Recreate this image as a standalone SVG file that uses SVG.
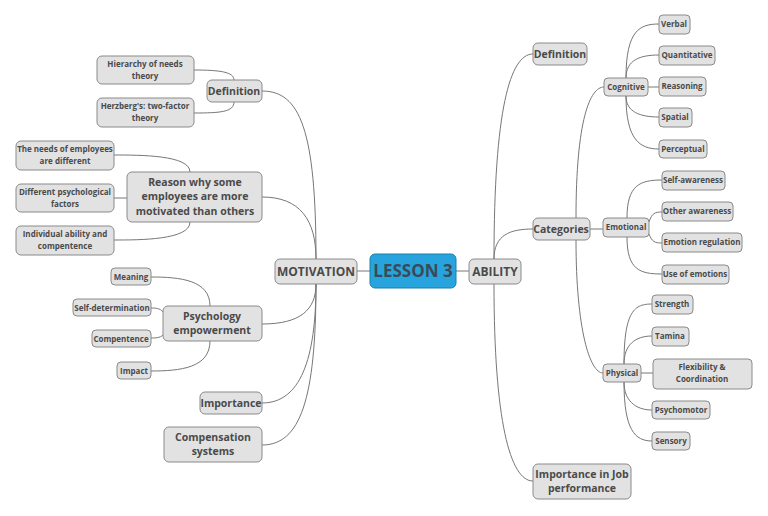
<svg xmlns="http://www.w3.org/2000/svg" width="768" height="516" viewBox="0 0 768 516">
<style>
.b rect{fill:#e2e2e2;stroke:#8a8a8a;stroke-width:1}
text{font-family:"Open Sans","Noto Sans",sans-serif;font-weight:bold;fill:#4a4a4a;text-anchor:middle}
.s{font-size:8px}.m{font-size:10.5px}.l{font-size:12px}
#c path{fill:none;stroke:#777;stroke-width:1}
</style>
<rect width="768" height="516" fill="#fff"/>
<g id="c">
<path d="M357,271H370M456,271H469"/>
<path d="M316,259C316,130 300,91 262,91"/>
<path d="M316,259C316,220 300,197 262,197"/>
<path d="M316,284C316,310 300,324 262,324"/>
<path d="M316,284C316,360 300,403 262,403"/>
<path d="M316,284C316,400 300,445 262,445"/>
<path d="M234,80C234,72 220,70 194,70"/>
<path d="M234,102C234,112 220,113 194,113"/>
<path d="M190,172C190,155 140,155 114,155"/>
<path d="M127,198H114"/>
<path d="M190,222C190,240 140,240 114,240"/>
<path d="M210,306C210,280 180,277 151,277"/>
<path d="M163,312C160,308 155,308 151,308"/>
<path d="M163,335C160,338 155,338 151,338"/>
<path d="M210,341C210,368 180,371 151,371"/>
<path d="M494,259C494,110 510,54 533,54"/>
<path d="M494,259C494,235 510,229 533,229"/>
<path d="M494,284C494,420 510,481 533,481"/>
<path d="M590,229H603"/>
<path d="M576,218C576,120 590,87 604,87"/>
<path d="M576,240C576,330 590,373 603,373"/>
<path d="M626,78C626,30 640,24 659,24"/>
<path d="M626,78C626,60 640,55 659,55"/>
<path d="M648,87H659"/>
<path d="M626,96C626,112 640,117 659,117"/>
<path d="M626,96C626,140 640,149 659,149"/>
<path d="M627,218C627,185 640,180 662,180"/>
<path d="M649,222C652,213 655,212 662,212"/>
<path d="M649,234C652,242 655,243 662,243"/>
<path d="M627,237C627,270 640,274 662,274"/>
<path d="M624,364C624,310 635,304 652,304"/>
<path d="M624,364C624,345 635,336 652,336"/>
<path d="M641,373H653"/>
<path d="M624,382C624,400 635,410 652,410"/>
<path d="M624,382C624,430 635,441 652,441"/>
</g>
<g id="lesson3"><rect x="370" y="254" width="86" height="34" rx="5" fill="#27a4dd" stroke="#1a7fae"/><text x="413" y="277" style="font-size:17px;fill:#3a4a58">LESSON 3</text></g>
<g id="motivation" class="b"><rect x="275" y="259" width="82" height="25" rx="5"/><text x="316" y="276" class="l">MOTIVATION</text></g>
<g id="ability" class="b"><rect x="469" y="259" width="52" height="25" rx="5"/><text x="495" y="276" class="l">ABILITY</text></g>
<g id="m-def" class="b"><rect x="207" y="80" width="55" height="22" rx="5"/><text x="234" y="95" class="m">Definition</text></g>
<g id="m-hier" class="b"><rect x="97" y="56" width="97" height="28" rx="5"/><text x="145" y="67" class="s">Hierarchy of needs</text><text x="145" y="79" class="s">theory</text></g>
<g id="m-herz" class="b"><rect x="97" y="98" width="97" height="29" rx="5"/><text x="145" y="109" class="s">Herzberg's: two-factor</text><text x="145" y="121" class="s">theory</text></g>
<g id="m-reason" class="b"><rect x="127" y="172" width="135" height="50" rx="5"/><text x="195" y="186" class="m">Reason why some</text><text x="195" y="200" class="m">employees are more</text><text x="195" y="215" class="m">motivated than others</text></g>
<g id="m-needs" class="b"><rect x="16" y="141" width="98" height="29" rx="5"/><text x="65" y="152" class="s">The needs of employees</text><text x="65" y="164" class="s">are different</text></g>
<g id="m-diff" class="b"><rect x="16" y="184" width="98" height="28" rx="5"/><text x="65" y="195" class="s">Different psychological</text><text x="65" y="207" class="s">factors</text></g>
<g id="m-indiv" class="b"><rect x="16" y="226" width="98" height="29" rx="5"/><text x="65" y="237" class="s">Individual ability and</text><text x="65" y="249" class="s">compentence</text></g>
<g id="m-psych" class="b"><rect x="163" y="306" width="99" height="35" rx="5"/><text x="212" y="320" class="m">Psychology</text><text x="212" y="334" class="m">empowerment</text></g>
<g id="m-meaning" class="b"><rect x="111" y="268" width="40" height="17" rx="4"/><text x="131" y="280" class="s">Meaning</text></g>
<g id="m-selfdet" class="b"><rect x="73" y="299" width="78" height="17" rx="4"/><text x="112" y="311" class="s">Self-determination</text></g>
<g id="m-comp" class="b"><rect x="92" y="330" width="59" height="17" rx="4"/><text x="121" y="342" class="s">Compentence</text></g>
<g id="m-impact" class="b"><rect x="117" y="362" width="34" height="17" rx="4"/><text x="134" y="374" class="s">Impact</text></g>
<g id="m-importance" class="b"><rect x="200" y="392" width="62" height="22" rx="5"/><text x="231" y="407" class="m">Importance</text></g>
<g id="m-compsys" class="b"><rect x="164" y="427" width="98" height="35" rx="5"/><text x="213" y="441" class="m">Compensation</text><text x="213" y="455" class="m">systems</text></g>
<g id="a-def" class="b"><rect x="533" y="43" width="54" height="22" rx="5"/><text x="560" y="58" class="m">Definition</text></g>
<g id="a-cat" class="b"><rect x="533" y="218" width="57" height="22" rx="5"/><text x="561" y="233" class="m">Categories</text></g>
<g id="a-imp" class="b"><rect x="533" y="464" width="98" height="35" rx="5"/><text x="582" y="478" class="m">Importance in Job</text><text x="582" y="492" class="m">performance</text></g>
<g id="a-cog" class="b"><rect x="604" y="78" width="44" height="18" rx="4"/><text x="626" y="90" class="s">Cognitive</text></g>
<g id="a-verbal" class="b"><rect x="659" y="15" width="31" height="19" rx="4"/><text x="674" y="27" class="s">Verbal</text></g>
<g id="a-quant" class="b"><rect x="659" y="46" width="56" height="19" rx="4"/><text x="687" y="58" class="s">Quantitative</text></g>
<g id="a-reas" class="b"><rect x="659" y="77" width="47" height="19" rx="4"/><text x="682" y="89" class="s">Reasoning</text></g>
<g id="a-spat" class="b"><rect x="659" y="108" width="33" height="19" rx="4"/><text x="675" y="120" class="s">Spatial</text></g>
<g id="a-perc" class="b"><rect x="659" y="140" width="48" height="18" rx="4"/><text x="683" y="152" class="s">Perceptual</text></g>
<g id="a-emo" class="b"><rect x="603" y="218" width="46" height="19" rx="4"/><text x="626" y="230" class="s">Emotional</text></g>
<g id="a-selfaw" class="b"><rect x="662" y="171" width="63" height="19" rx="4"/><text x="693" y="183" class="s">Self-awareness</text></g>
<g id="a-other" class="b"><rect x="662" y="202" width="71" height="19" rx="4"/><text x="697" y="214" class="s">Other awareness</text></g>
<g id="a-emoreg" class="b"><rect x="662" y="233" width="80" height="19" rx="4"/><text x="702" y="245" class="s">Emotion regulation</text></g>
<g id="a-use" class="b"><rect x="662" y="265" width="67" height="19" rx="4"/><text x="695" y="277" class="s">Use of emotions</text></g>
<g id="a-phys" class="b"><rect x="603" y="364" width="38" height="18" rx="4"/><text x="622" y="376" class="s">Physical</text></g>
<g id="a-str" class="b"><rect x="652" y="295" width="41" height="19" rx="4"/><text x="672" y="307" class="s">Strength</text></g>
<g id="a-tam" class="b"><rect x="652" y="327" width="37" height="19" rx="4"/><text x="670" y="339" class="s">Tamina</text></g>
<g id="a-flex" class="b"><rect x="653" y="359" width="99" height="30" rx="4"/><text x="702" y="370" class="s">Flexibility &amp;</text><text x="702" y="382" class="s">Coordination</text></g>
<g id="a-psychomotor" class="b"><rect x="652" y="401" width="58" height="18" rx="4"/><text x="681" y="413" class="s">Psychomotor</text></g>
<g id="a-sens" class="b"><rect x="652" y="432" width="38" height="18" rx="4"/><text x="671" y="444" class="s">Sensory</text></g>
</svg>
